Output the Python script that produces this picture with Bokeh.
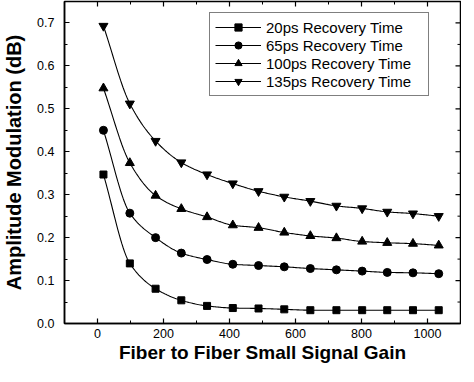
import numpy as np
from bokeh.plotting import figure
from bokeh.models import (Range1d, SingleIntervalTicker, Legend, LegendItem,
                          ColumnDataSource, PrintfTickFormatter)
from bokeh.embed import file_html
from bokeh.resources import INLINE

# ---- data ----
gain = [18, 98, 176, 254, 332, 410, 488, 566, 645, 724, 802, 878, 956, 1034]
mod_20ps = [0.347, 0.140, 0.081, 0.054, 0.041, 0.036, 0.035, 0.033, 0.031, 0.031, 0.031, 0.031, 0.031, 0.031]
mod_65ps = [0.450, 0.257, 0.200, 0.164, 0.149, 0.138, 0.135, 0.132, 0.128, 0.125, 0.122, 0.119, 0.118, 0.116]
mod_100ps = [0.548, 0.374, 0.298, 0.267, 0.248, 0.229, 0.223, 0.212, 0.204, 0.199, 0.191, 0.188, 0.186, 0.182]
mod_135ps = [0.693, 0.512, 0.425, 0.375, 0.347, 0.326, 0.308, 0.295, 0.285, 0.274, 0.268, 0.260, 0.256, 0.250]
labels = ["20ps Recovery Time", "65ps Recovery Time", "100ps Recovery Time", "135ps Recovery Time"]
markers = ["square", "circle", "triangle", "inverted_triangle"]
x_label = "Fiber to Fiber Small Signal Gain"
y_label = "Amplitude Modulation (dB)"
x_major_ticks = [0, 200, 400, 600, 800, 1000]
x_minor_ticks = [100, 300, 500, 700, 900]
y_major_ticks = [0.1, 0.2, 0.3, 0.4, 0.5, 0.6, 0.7]
y_minor_ticks = [0.05, 0.15, 0.25, 0.35, 0.45, 0.55, 0.65]

FONT = "Liberation Sans"


def smooth(x, y, n=20):
    """Monotone cubic (Fritsch-Carlson) drawing path through the data points."""
    x = np.asarray(x, float)
    y = np.asarray(y, float)
    h = np.diff(x)
    d = np.diff(y) / h
    m = np.zeros_like(y)
    m[0], m[-1] = d[0], d[-1]
    for i in range(1, len(x) - 1):
        if d[i - 1] * d[i] <= 0:
            m[i] = 0
        else:
            w1 = 2 * h[i] + h[i - 1]
            w2 = h[i] + 2 * h[i - 1]
            m[i] = (w1 + w2) / (w1 / d[i - 1] + w2 / d[i])
    xs, ys = [], []
    for i in range(len(x) - 1):
        t = np.linspace(0, 1, n, endpoint=(i == len(x) - 2))
        h00 = 2 * t**3 - 3 * t**2 + 1
        h10 = t**3 - 2 * t**2 + t
        h01 = -2 * t**3 + 3 * t**2
        h11 = t**3 - t**2
        xs.extend(x[i] + t * h[i])
        ys.extend(h00 * y[i] + h10 * h[i] * m[i] + h01 * y[i + 1] + h11 * h[i] * m[i + 1])
    return xs, ys


xr = Range1d(-100, 1100)
yr = Range1d(0, 0.75)
p = figure(frame_width=396, frame_height=322, output_backend="svg", toolbar_location=None,
           x_range=xr, y_range=yr,
           min_border_left=0, min_border_right=1, min_border_top=1, min_border_bottom=0,
           x_axis_label=x_label, y_axis_label=y_label)
p.grid.visible = False
p.outline_line_color = "black"
p.outline_line_width = 1.5
p.background_fill_color = "white"
p.border_fill_color = "white"


def style_axis(ax):
    ax.major_tick_in = 5
    ax.major_tick_out = 0
    ax.minor_tick_in = 3
    ax.minor_tick_out = 0
    ax.axis_line_width = 1.5
    ax.major_tick_line_width = 1.2
    ax.minor_tick_line_width = 1.0
    ax.major_label_text_font = FONT
    ax.major_label_text_color = "black"
    ax.axis_label_text_font = FONT
    ax.axis_label_text_font_style = "bold"
    ax.axis_label_text_color = "black"


xa = p.xaxis[0]
xa.ticker = SingleIntervalTicker(interval=200, num_minor_ticks=2)
style_axis(xa)
xa.major_label_text_font_size = "12.5px"
xa.major_label_standoff = 5
xa.axis_label_text_font_size = "19px"
xa.axis_label_standoff = 1

ya = p.yaxis[0]
ya.ticker = SingleIntervalTicker(interval=0.1, num_minor_ticks=2)
ya.formatter = PrintfTickFormatter(format="%.1f")
style_axis(ya)
ya.major_label_text_font_size = "12.5px"
ya.major_label_standoff = 10
ya.axis_label_text_font_size = "20px"
ya.axis_label_standoff = 9

# mirrored inward ticks on top and right edges (half of each dash is clipped by the frame)
top_major = ColumnDataSource(dict(x=x_major_ticks, y=[yr.end] * len(x_major_ticks)))
top_minor = ColumnDataSource(dict(x=x_minor_ticks, y=[yr.end] * len(x_minor_ticks)))
right_major = ColumnDataSource(dict(x=[xr.end] * len(y_major_ticks), y=y_major_ticks))
right_minor = ColumnDataSource(dict(x=[xr.end] * len(y_minor_ticks), y=y_minor_ticks))
p.scatter("x", "y", source=top_major, marker="dash", angle=np.pi / 2, size=10,
          line_color="black", line_width=1.2)
p.scatter("x", "y", source=top_minor, marker="dash", angle=np.pi / 2, size=6,
          line_color="black", line_width=1.0)
p.scatter("x", "y", source=right_major, marker="dash", size=10,
          line_color="black", line_width=1.2)
p.scatter("x", "y", source=right_minor, marker="dash", size=6,
          line_color="black", line_width=1.0)

series = [mod_20ps, mod_65ps, mod_100ps, mod_135ps]
sizes = [7, 8, 9, 9]
items = []
for ys, lab, mk, sz in zip(series, labels, markers, sizes):
    cx, cy = smooth(gain, ys)
    lr = p.line(cx, cy, line_color="black", line_width=1.1)
    src = ColumnDataSource(dict(x=gain, y=ys))
    sr = p.scatter("x", "y", source=src, marker=mk, size=sz, fill_color="black", line_color="black")
    items.append(LegendItem(label=lab, renderers=[lr, sr]))

legend = Legend(items=items, location=(145, 227), padding=5, spacing=0,
                glyph_width=46, glyph_height=18, label_height=18, label_width=157,
                label_standoff=5, label_text_font=FONT, label_text_font_size="15px",
                label_text_color="black", border_line_color="black", border_line_width=1.2,
                background_fill_alpha=1.0)
p.add_layout(legend, "center")

open("out.html", "w").write(file_html(p, INLINE))
